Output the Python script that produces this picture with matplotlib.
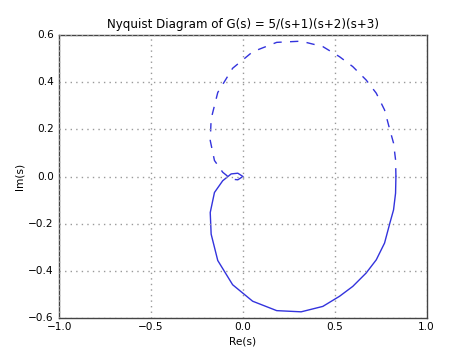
import matplotlib
matplotlib.use("Agg")
import matplotlib.pyplot as plt

# Positive-frequency branch
re_pos = [0.833, 0.831, 0.82, 0.80, 0.771, 0.726, 0.671, 0.598, 0.526, 0.435,
          0.317, 0.184, 0.053, -0.056, -0.137, -0.173, -0.178, -0.155, -0.11,
          -0.064, -0.028, -0.004, 0.0]
im_pos = [0.0, -0.071, -0.142, -0.198, -0.283, -0.354, -0.41, -0.467, -0.509, -0.552,
          -0.575, -0.57, -0.53, -0.46, -0.357, -0.245, -0.153, -0.068, -0.018,
          0.011, 0.014, 0.002, 0.0]

xticks = [-1.0, -0.5, 0.0, 0.5, 1.0]
yticks = [-0.6, -0.4, -0.2, 0.0, 0.2, 0.4, 0.6]

plt.style.use('classic')
fig = plt.figure(figsize=(4.74, 3.53), dpi=100)
ax = fig.add_subplot(111)
ax.plot(re_pos, im_pos, color='#3333dd', linestyle='-', linewidth=1.0)
ax.plot(re_pos, [-v for v in im_pos], color='#3333dd', linestyle='--', linewidth=1.0)
ax.set_xlim(-1.0, 1.0)
ax.set_ylim(-0.6, 0.6)
ax.set_xticks(xticks)
ax.set_yticks(yticks)
ax.tick_params(axis='x', length=0, labelsize=7.6, pad=3)
ax.tick_params(axis='y', length=0, labelsize=7.6, pad=4)
ax.grid(True, color='#999999', linestyle=':', linewidth=1.0)
ax.set_xlabel('Re(s)', fontsize=7.6, labelpad=3)
ax.set_ylabel('Im(s)', fontsize=7.6, labelpad=3)
ax.set_title('Nyquist Diagram of G(s) = 5/(s+1)(s+2)(s+3)', fontsize=8.6)
for s in ax.spines.values():
    s.set_color('#444444')
fig.savefig('out.png', dpi=100)
